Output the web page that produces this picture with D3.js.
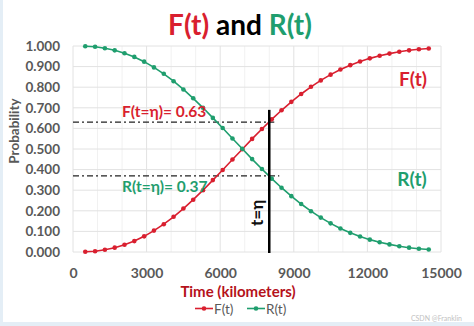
<!DOCTYPE html>
<html><head><meta charset="utf-8">
<script src="https://cdn.jsdelivr.net/npm/d3@7"></script>
<style>
html,body{margin:0;padding:0;background:#fff;}
svg{display:block;}
</style></head>
<body>
<svg id="chart" width="474" height="326"></svg>
<script>
// ---- data ----
const times = [500,900,1300,1700,2100,2500,2900,3300,3700,4100,4500,4900,5300,5700,6100,6500,6900,7300,7700,8100,8500,8900,9300,9700,10100,10500,10900,11300,11700,12100,12500,12900,13300,13700,14100,14500];
const fValues = [0.001,0.004,0.011,0.021,0.035,0.053,0.076,0.104,0.135,0.171,0.211,0.254,0.300,0.349,0.398,0.449,0.499,0.549,0.597,0.644,0.688,0.729,0.767,0.802,0.833,0.861,0.886,0.907,0.925,0.940,0.953,0.963,0.972,0.979,0.984,0.988];
const rValues = [0.999,0.996,0.989,0.979,0.965,0.947,0.924,0.896,0.865,0.829,0.789,0.746,0.700,0.651,0.602,0.551,0.501,0.451,0.403,0.356,0.312,0.271,0.233,0.198,0.167,0.139,0.114,0.093,0.075,0.060,0.047,0.037,0.028,0.021,0.016,0.012];
const xTicks = [0,3000,6000,9000,12000,15000];
const yTicks = [0,0.1,0.2,0.3,0.4,0.5,0.6,0.7,0.8,0.9,1.0];
const eta = 8000;
const fAtEta = 0.63;
const rAtEta = 0.37;
const seriesNames = ["F(t)","R(t)"];

const RED = "#d91f2f", GREEN = "#1f9e6e", GRAY = "#595959";
const FONT = "Lato, 'Open Sans', sans-serif";

const svg = d3.select("#chart");
// background edges
svg.append("rect").attr("x",0).attr("y",0).attr("width",3).attr("height",326).attr("fill","#e4eef6");
svg.append("rect").attr("x",0).attr("y",322).attr("width",474).attr("height",4).attr("fill","#e4eef6");

const x = d3.scaleLinear().domain([0,15000]).range([73,441]);
const y = d3.scaleLinear().domain([0,1]).range([252,46]);

// minor vertical grid
const g = svg.append("g");
g.selectAll("line.minor").data(d3.range(1000,15000,1000).filter(v=>v%3000!==0)).enter()
 .append("line").attr("x1",d=>x(d)).attr("x2",d=>x(d)).attr("y1",y(1)).attr("y2",y(0))
 .attr("stroke","#f1f1f1").attr("stroke-width",1);
// major grid
g.selectAll("line.vx").data(xTicks).enter().append("line")
 .attr("x1",d=>x(d)).attr("x2",d=>x(d)).attr("y1",y(1)).attr("y2",y(0))
 .attr("stroke","#e2e2e2").attr("stroke-width",1);
g.selectAll("line.hy").data(yTicks).enter().append("line")
 .attr("x1",x(0)).attr("x2",x(15000)).attr("y1",d=>y(d)).attr("y2",d=>y(d))
 .attr("stroke","#e2e2e2").attr("stroke-width",1);

// axes (labels only)
const yAxis = d3.axisLeft(y).tickValues(yTicks).tickFormat(d3.format(".3f")).tickSize(0).tickPadding(13);
const ya = svg.append("g").attr("transform",`translate(${x(0)},0)`).call(yAxis);
ya.select(".domain").remove();
ya.selectAll("text").attr("font-family",FONT).attr("font-weight","bold").attr("font-size",13.5).attr("fill",GRAY);

const xAxis = d3.axisBottom(x).tickValues(xTicks).tickFormat(d3.format("d")).tickSize(0).tickPadding(16);
const xa = svg.append("g").attr("transform",`translate(0,${y(0)})`).call(xAxis);
xa.select(".domain").remove();
xa.selectAll("text").attr("font-family",FONT).attr("font-weight","bold").attr("font-size",14).attr("fill",GRAY);

// reference lines
svg.append("line").attr("x1",x(0)).attr("x2",x(eta)+5).attr("y1",y(fAtEta)).attr("y2",y(fAtEta))
 .attr("stroke","#222").attr("stroke-width",1.3).attr("stroke-dasharray","6,3,2,3");
svg.append("line").attr("x1",x(0)).attr("x2",x(eta)+10).attr("y1",y(rAtEta)).attr("y2",y(rAtEta))
 .attr("stroke","#222").attr("stroke-width",1.3).attr("stroke-dasharray","6,3,2,3");

// series
const line = d3.line().x(d=>x(d[0])).y(d=>y(d[1]));
const series = [
  {name:seriesNames[0], color:RED, vals:times.map((t,i)=>[t,fValues[i]])},
  {name:seriesNames[1], color:GREEN, vals:times.map((t,i)=>[t,rValues[i]])}
];
series.forEach(s=>{
  svg.append("path").datum(s.vals).attr("d",line).attr("fill","none").attr("stroke",s.color).attr("stroke-width",1.6);
  svg.append("g").selectAll("circle").data(s.vals).enter().append("circle")
    .attr("cx",d=>x(d[0])).attr("cy",d=>y(d[1])).attr("r",2.3).attr("fill",s.color);
});

// eta vertical line
svg.append("line").attr("x1",x(eta)).attr("x2",x(eta)).attr("y1",y(0.69)).attr("y2",y(0)+1)
 .attr("stroke","#000").attr("stroke-width",2.5);
svg.append("text").attr("transform",`translate(${x(eta)-6},${y(0.19)}) rotate(-90)`)
 .attr("text-anchor","middle").attr("font-family",FONT).attr("font-weight","bold").attr("font-size",17).attr("fill","#111")
 .text("t=η");

// annotations
svg.append("text").attr("x",122).attr("y",117).attr("font-family",FONT).attr("font-weight","bold").attr("font-size",15.5)
 .attr("fill",RED).text("F(t=η)= 0.63");
svg.append("text").attr("x",122).attr("y",191.5).attr("font-family",FONT).attr("font-weight","bold").attr("font-size",15.5)
 .attr("fill",GREEN).text("R(t=η)= 0.37");
svg.append("text").attr("x",413).attr("y",86).attr("text-anchor","middle").attr("font-family",FONT).attr("font-weight","bold").attr("font-size",19)
 .attr("fill",RED).text("F(t)");
svg.append("text").attr("x",412).attr("y",186).attr("text-anchor","middle").attr("font-family",FONT).attr("font-weight","bold").attr("font-size",19)
 .attr("fill",GREEN).text("R(t)");

// title
const title = svg.append("text").attr("x",240).attr("y",35).attr("text-anchor","middle")
 .attr("font-family",FONT).attr("font-weight","bold").attr("font-size",28);
title.append("tspan").attr("fill",RED).text("F(t)");
title.append("tspan").attr("fill","#000").text(" and ");
title.append("tspan").attr("fill",GREEN).text("R(t)");

// axis titles
svg.append("text").attr("transform","translate(19,131) rotate(-90)").attr("text-anchor","middle")
 .attr("font-family",FONT).attr("font-weight","bold").attr("font-size",13.5).attr("fill",GRAY).text("Probability");
svg.append("text").attr("x",238).attr("y",297).attr("text-anchor","middle")
 .attr("font-family",FONT).attr("font-weight","bold").attr("font-size",15).attr("fill","#b5121b").text("Time (kilometers)");

// legend
const legend = svg.append("g");
const legX = [195,247];
series.forEach((s,i)=>{
  const lg = legend.append("g").attr("transform",`translate(${legX[i]},308.5)`);
  lg.append("line").attr("x1",0).attr("x2",18).attr("y1",0).attr("y2",0).attr("stroke",s.color).attr("stroke-width",1.6);
  lg.append("circle").attr("cx",9).attr("cy",0).attr("r",2.3).attr("fill",s.color);
  lg.append("text").attr("x",19).attr("y",5).attr("font-family",FONT).attr("font-size",13.5).attr("fill",GRAY).text(s.name);
});

// watermark
svg.append("text").attr("x",462).attr("y",321).attr("text-anchor","end").attr("font-family",FONT)
 .attr("font-size",7).attr("fill","#c2c2c2").text("CSDN @Franklin");
</script>
</body></html>
